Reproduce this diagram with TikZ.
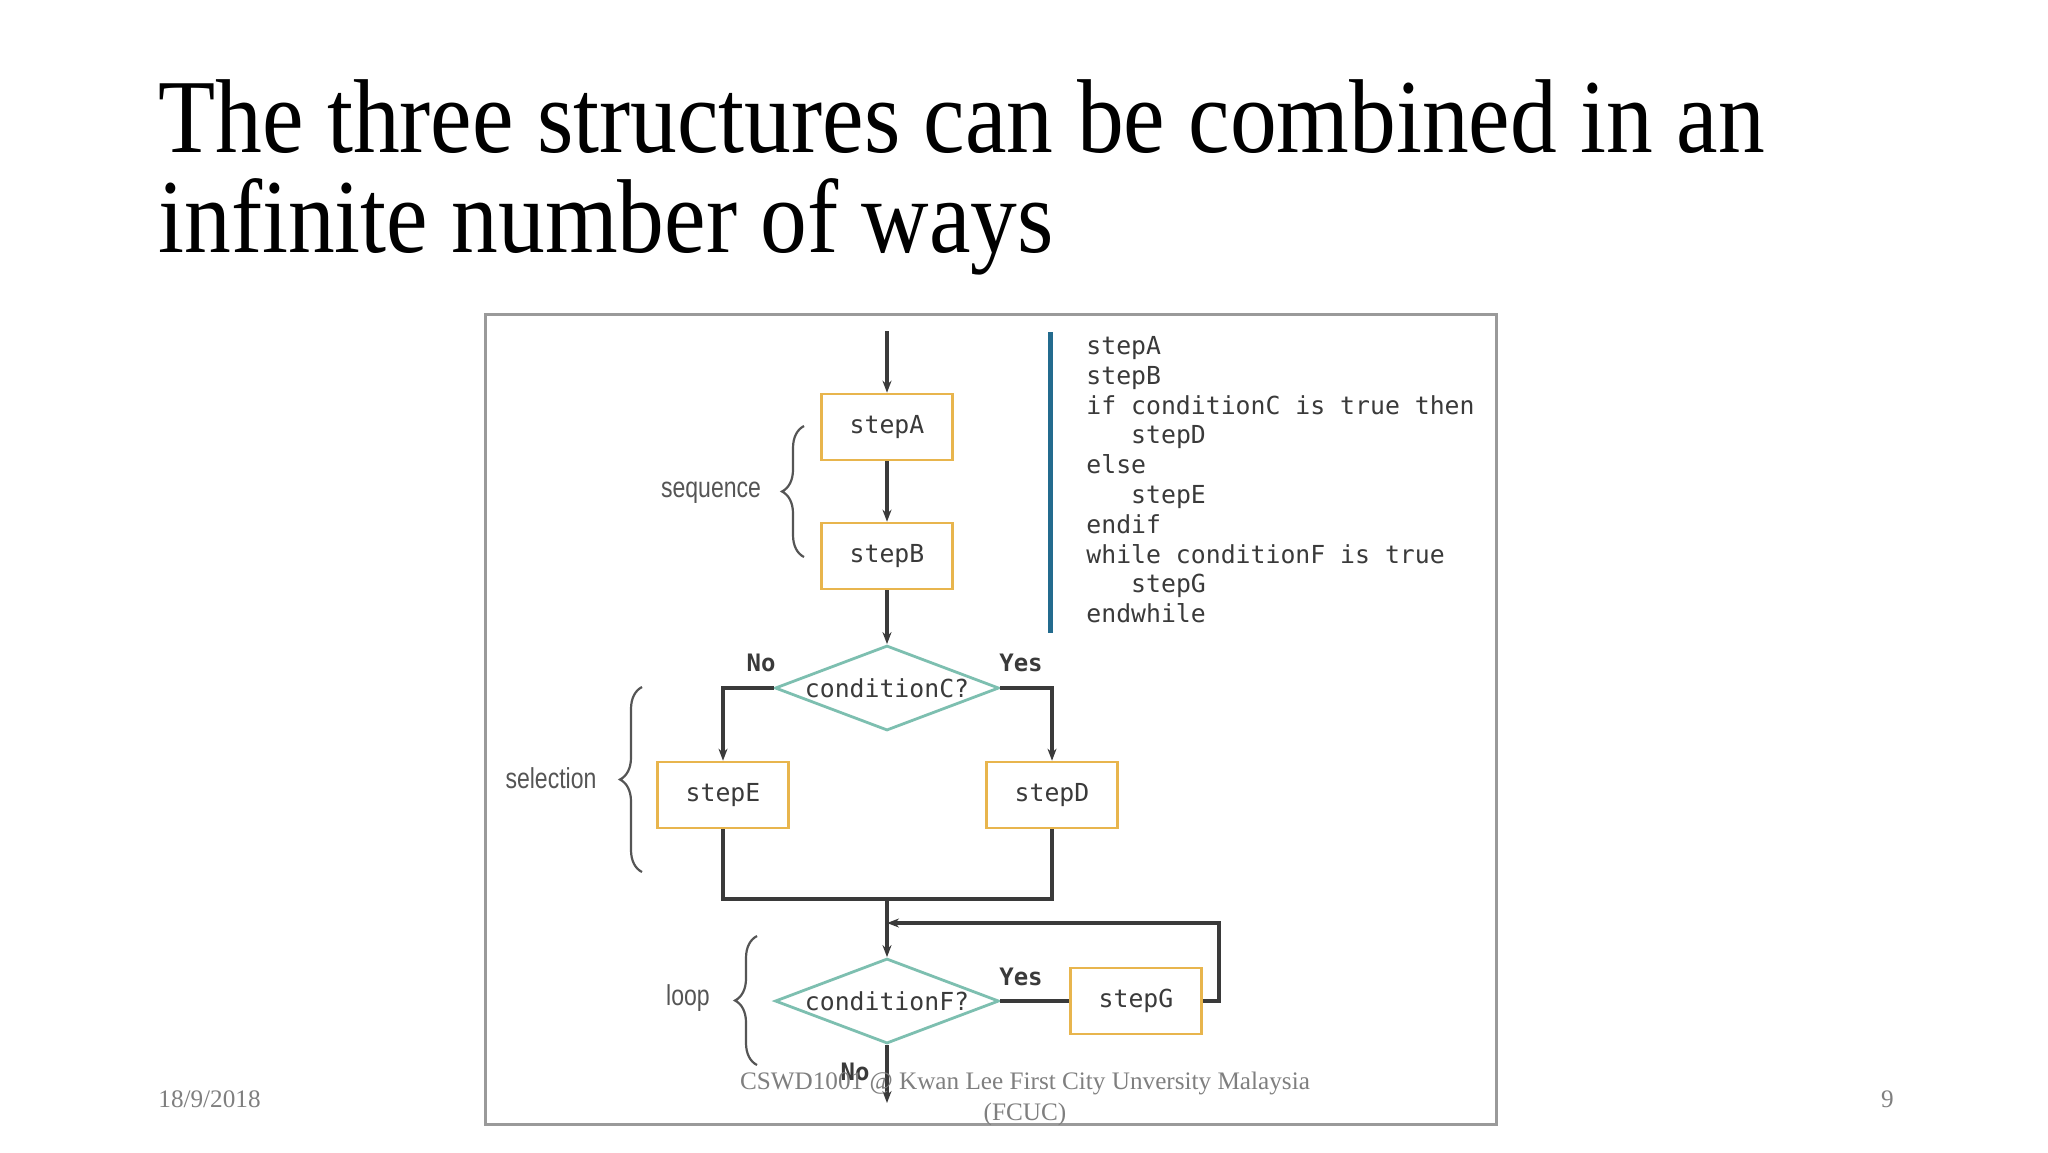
\documentclass[tikz,border=0pt]{standalone}
\usepackage{fontspec}
\setmainfont{Liberation Serif}
\newfontfamily\titlefont[FakeStretch=0.89]{Liberation Serif}
\newfontfamily\codefont{DejaVu Sans Mono}
\newfontfamily\condfont[FakeStretch=0.8]{Liberation Sans}
\usetikzlibrary{shapes.geometric,arrows.meta,decorations.pathreplacing}
\definecolor{boxc}{HTML}{E8B54D}
\definecolor{diac}{HTML}{7DBFB0}
\definecolor{linec}{HTML}{3A3A3A}
\definecolor{framec}{HTML}{9A9A9A}
\definecolor{codeline}{HTML}{236B8E}
\definecolor{labelc}{HTML}{555555}
\definecolor{footc}{HTML}{7F7F7F}
\tikzset{
  stepbox/.style={draw=boxc, line width=1.3pt, minimum width=65.5pt, minimum height=33pt,
    inner sep=0pt, fill=white, font=\codefont\fontsize{12.4}{15}\selectfont, text=linec},
  decision/.style={diamond, draw=diac, line width=1.4pt, shape aspect=2.6, inner sep=0pt,
    minimum width=112pt, minimum height=42.5pt, fill=white,
    font=\codefont\fontsize{12.4}{15}\selectfont, text=linec},
  conn/.style={draw=linec, line width=1.6pt},
  arr/.style={conn, -{Stealth[length=6pt,width=4.5pt]}},
  yn/.style={font=\codefont\bfseries\fontsize{12}{14}\selectfont, text=linec, inner sep=0pt},
  grp/.style={font=\condfont\fontsize{14.4}{16}\selectfont, text=labelc, inner sep=0pt},
  brc/.style={draw=labelc, line width=1.1pt, decorate, decoration={brace, amplitude=11pt}},
  foot/.style={font=\fontsize{12.6}{15.3}\selectfont, text=footc, inner sep=0pt}
}
\begin{document}
\begin{tikzpicture}[x=0.5pt, y=-0.5pt]
\useasboundingbox[fill=white] (0,0) rectangle (2048,1152);
% title
\node[anchor=base west, inner sep=0pt, font=\titlefont\fontsize{52.5}{50}\selectfont] (t1) at (158,152) {The three structures can be combined in an};
\node[anchor=base west, inner sep=0pt, font=\titlefont\fontsize{52.5}{50}\selectfont] (t2) at (158,252) {infinite number of ways};
% frame
\draw[draw=framec, line width=1.5pt] (485,314) rectangle (1496,1124);
% nodes
\coordinate (top) at (887,331);
\node[stepbox] (A) at (887,427) {stepA};
\node[stepbox] (B) at (887,556) {stepB};
\node[decision] (C) at (887,688) {conditionC?};
\node[stepbox] (E) at (723,795) {stepE};
\node[stepbox] (D) at (1052,795) {stepD};
\coordinate (join) at (887,899);
\node[decision] (F) at (887,1001) {conditionF?};
\node[stepbox] (G) at (1136,1001) {stepG};
\coordinate (loopc) at (1219,923);
\coordinate (bot) at (887,1103);
% connectors
\draw[arr] (top) -- (A);
\draw[arr] (A) -- (B);
\draw[arr] (B) -- (C);
\draw[arr] (C.west) -| (E.north);
\draw[arr] (C.east) -| (D.north);
\draw[conn] (E.south) -- (E.south |- join) -- (D.south |- join) -- (D.south);
\draw[arr] (join) -- (F.north);
\draw[conn] (F.east) -- (G.west);
\draw[arr] (G.east) -| (loopc) -- (F.north |- loopc);
\draw[arr] (F.south) -- (bot);
% yes/no labels
\node[yn] (no1) at (761,663) {No};
\node[yn] (yes1) at (1021,663) {Yes};
\node[yn] (yes2) at (1021,977) {Yes};
\node[yn] (no2) at (855,1072) {No};
% braces
\draw[brc] (804,557) -- (804,426);
\node[grp] (seq) at (711,493) {sequence};
\draw[brc] (642,872) -- (642,687);
\node[grp] (sel) at (551,778) {selection};
\draw[brc] (757,1065) -- (757,936);
\node[grp] (lp) at (688,998) {loop};
% pseudocode
\draw[draw=codeline, line width=2.5pt] (1050,332) -- (1050,633);
\node[anchor=north west, inner sep=0pt, align=left, text=linec,
  font=\codefont\fontsize{12.4}{14.9}\selectfont] (code) at (1086,336)
  {stepA\\stepB\\if conditionC is true then\\\phantom{xxx}stepD\\else\\\phantom{xxx}stepE\\endif\\while conditionF is true\\\phantom{xxx}stepG\\endwhile};
% footer
\node[foot, anchor=base west] (date) at (158,1107) {18/9/2018};
\node[foot, align=center] (credit) at (1025,1099) {CSWD1001 @ Kwan Lee First City Unversity Malaysia\\(FCUC)};
\node[foot, anchor=base east] (page) at (1894,1107) {9};
\end{tikzpicture}
\end{document}
